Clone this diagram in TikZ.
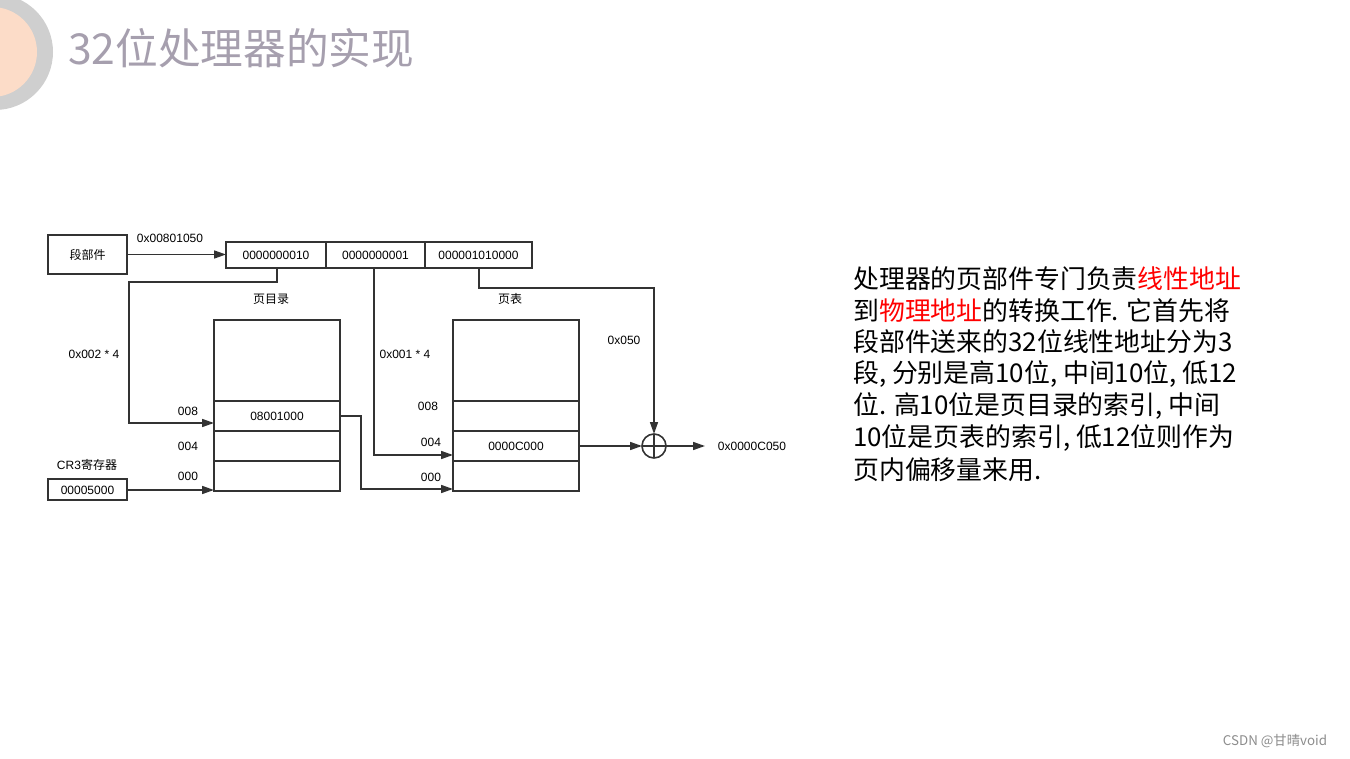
\documentclass[tikz,border=0pt]{standalone}
\usepackage{fontspec}
\setmainfont{Liberation Sans}
\newfontfamily\cjk{Noto Sans CJK SC}
\usetikzlibrary{arrows.meta}
\definecolor{ring}{HTML}{CFCFCF}
\definecolor{peach}{HTML}{FCDCC8}
\definecolor{ttl}{HTML}{A69FAE}
\begin{document}
\begin{tikzpicture}[x=0.75pt,y=-0.75pt,
  bx/.style={draw=black!80,line width=1.2pt},
  ln/.style={draw=black!80,line width=1.2pt},
  ar/.style={ln,-{Triangle[length=9pt,width=6pt]}},
  lb/.style={font=\fontsize{9}{10}\selectfont,inner sep=0pt},
  rt/.style={font=\cjk\fontsize{19.4}{24}\selectfont,anchor=west,inner sep=0pt}]
\useasboundingbox (0,0) rectangle (1350,759);
\fill[ring] (-5,52) circle (58);
\fill[peach] (-8,52) circle (45);
\node[font=\cjk\fontsize{32}{34}\selectfont,text=ttl,anchor=west,inner sep=0pt] (title) at (68,48) {32位处理器的实现};
% boxes
\draw[bx] (48,235) rectangle (127,274); \node[lb,font=\cjk\fontsize{9}{10}\selectfont] (seg) at (87.5,254.5) {段部件};
\coordinate (segR) at (127,254.5);
\draw[bx] (226,242) rectangle (532,268);
\draw[bx] (326,242)--(326,268) (425,242)--(425,268);
\node[lb] (c1) at (276,255) {0000000010};
\node[lb] (c2) at (375.5,255) {0000000001};
\node[lb] (c3) at (478.5,255) {000001010000};
\node[lb] (addr) at (170,238) {0x00801050};
\draw[bx] (48,479) rectangle (127,500); \node[lb] (cr3v) at (87.5,490) {00005000};
\node[lb] (cr3) at (87,465) {CR3{\cjk 寄存器}};
% page dir
\draw[bx] (214,320) rectangle (340,491);
\draw[bx] (214,401)--(340,401) (214,431)--(340,431) (214,461)--(340,461);
\node[lb,font=\cjk\fontsize{9}{10}\selectfont] (pd) at (271,299) {页目录};
\node[lb] (e1) at (277,416) {08001000};
\node[lb] at (188,411) {008};
\node[lb] at (188,446) {004};
\node[lb] at (188,476) {000};
% page table
\draw[bx] (453,320) rectangle (579,491);
\draw[bx] (453,401)--(579,401) (453,431)--(579,431) (453,461)--(579,461);
\node[lb,font=\cjk\fontsize{9}{10}\selectfont] (pt) at (510,299) {页表};
\node[lb] (e2) at (516,446) {0000C000};
\node[lb] at (428,406) {008};
\node[lb] at (431,442) {004};
\node[lb] at (431,477) {000};
% adder
\draw[ln] (654,446) circle (12);
\node (plus) at (654,446) [circle,minimum size=18pt,inner sep=0pt] {};
\draw[ln] (642,446)--(666,446) (654,434)--(654,458);
\node[lb] (res) at (752,446) {0x0000C050};
% labels
\node[lb] at (94,354) {0x002 * 4};
\node[lb] at (405,354) {0x001 * 4};
\node[lb] at (624,340) {0x050};
% connectors
\draw[ar] (segR)--(226,254.5);
\draw[ar] (277,268)--(277,282)--(129,282)--(129,423)--(214,423);
\draw[ar] (374,268)--(374,455)--(453,455);
\draw[ar] (479,268)--(479,288)--(654,288)--(654,434);
\draw[ar] (579,446)--(642,446);
\draw[ar] (666,446)--(705,446);
\draw[ar] (340,416)--(361,416)--(361,489)--(453,489);
\draw[ar] (127,490)--(214,490);
% right text
\node[rt] at (853,279) {处理器的页部件专门负责\textcolor{red}{线性地址}};
\node[rt] at (853,311) {到\textcolor{red}{物理地址}的转换工作. 它首先将};
\node[rt] at (853,342) {段部件送来的32位线性地址分为3};
\node[rt] at (853,374) {段, 分别是高10位, 中间10位, 低12};
\node[rt] at (853,406) {位. 高10位是页目录的索引, 中间};
\node[rt] at (853,438) {10位是页表的索引, 低12位则作为};
\node[rt] at (853,470) {页内偏移量来用.};
\node[font=\cjk\fontsize{10}{12}\selectfont,text=black!45,inner sep=0pt] at (1275,741) {CSDN @甘晴void};
\end{tikzpicture}
\end{document}
